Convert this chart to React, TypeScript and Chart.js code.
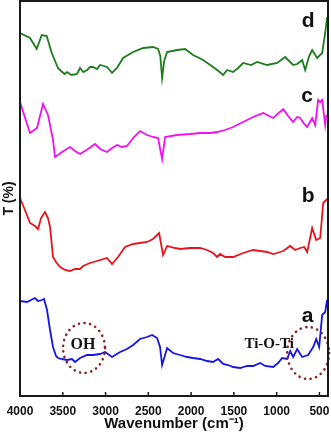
import React, { useEffect, useRef } from "react";
import { Chart, registerables } from "chart.js";

Chart.register(...registerables);

// X tick labels (wavenumber, cm-1)
const xTicks = [4000, 3500, 3000, 2500, 2000, 1500, 1000, 500];
const xMin = 400;
const xMax = 4000;

// Curve d (green)
const dWave = [4000, 3883, 3805, 3746, 3688, 3629, 3556, 3520, 3480, 3450, 3400, 3333, 3298, 3260, 3216, 3180, 3146, 3100, 3064, 3020, 2983, 2924, 2866, 2795, 2678, 2560, 2445, 2386, 2360, 2339, 2315, 2281, 2164, 2070, 1977, 1860, 1743, 1680, 1626, 1580, 1509, 1450, 1392, 1300, 1228, 1111, 994, 901, 807, 760, 702, 667, 620, 585, 527, 468, 433, 410];
const dT = [363, 358, 347, 361, 360, 343, 328, 325, 322, 324, 321, 322, 328, 324, 326, 329, 329, 327, 331, 330, 329, 323, 328, 338, 344, 348, 349, 347, 340, 318, 335, 344, 346, 347, 341, 336, 329, 325, 321, 326, 324, 328, 333, 331, 334, 331, 333, 339, 331, 332, 336, 326, 340, 346, 338, 343, 363, 379];

// Curve c (magenta)
const cWave = [4000, 3883, 3801, 3731, 3673, 3614, 3591, 3556, 3509, 3415, 3357, 3298, 3205, 3123, 3064, 2983, 2924, 2866, 2807, 2749, 2678, 2597, 2515, 2445, 2386, 2339, 2304, 2164, 2012, 1895, 1778, 1696, 1603, 1509, 1392, 1275, 1158, 1041, 924, 866, 807, 760, 725, 678, 643, 585, 550, 515, 491, 468, 433, 420];
const cT = [294, 263, 268, 292, 281, 256, 239, 241, 244, 249, 245, 242, 247, 252, 247, 244, 248, 251, 249, 250, 258, 265, 261, 259, 258, 237, 259, 261, 262, 263, 263, 264, 266, 269, 274, 279, 283, 278, 287, 280, 274, 279, 278, 272, 269, 278, 271, 296, 294, 296, 271, 281];

// Curve b (red)
const bWave = [4000, 3942, 3883, 3825, 3789, 3754, 3708, 3673, 3649, 3614, 3579, 3532, 3474, 3415, 3357, 3298, 3263, 3181, 3099, 2983, 2924, 2854, 2772, 2678, 2597, 2515, 2445, 2374, 2328, 2281, 2187, 2129, 2012, 1895, 1813, 1743, 1696, 1661, 1603, 1509, 1392, 1275, 1193, 1111, 1041, 994, 924, 842, 784, 725, 678, 643, 585, 538, 491, 456, 410];
const bT = [198, 186, 173, 170, 167, 178, 184, 178, 169, 139, 134, 129, 126, 125, 127, 127, 130, 133, 135, 138, 132, 139, 149, 152, 153, 154, 157, 163, 141, 150, 148, 147, 148, 148, 146, 143, 139, 142, 139, 139, 143, 146, 145, 144, 142, 143, 145, 150, 146, 148, 149, 144, 168, 156, 158, 193, 197];

// Curve a (blue)
const aWave = [4000, 3918, 3825, 3789, 3743, 3719, 3684, 3649, 3614, 3579, 3556, 3509, 3450, 3392, 3357, 3298, 3216, 3146, 3064, 3006, 2924, 2830, 2749, 2678, 2597, 2515, 2456, 2398, 2363, 2339, 2304, 2281, 2211, 2129, 2047, 1977, 1895, 1813, 1743, 1684, 1626, 1567, 1509, 1427, 1345, 1275, 1193, 1135, 1041, 983, 936, 877, 842, 807, 760, 725, 702, 667, 632, 573, 538, 503, 468, 433, 410];
const aT = [95, 94, 98, 95, 96, 97, 86, 66, 49, 40, 38, 37, 36, 37, 34, 38, 41, 41, 42, 44, 39, 44, 47, 51, 57, 59, 61, 58, 49, 31, 41, 48, 43, 41, 39, 38, 37, 35, 34, 37, 32, 31, 29, 28, 30, 30, 33, 30, 29, 33, 38, 37, 45, 39, 47, 42, 39, 40, 41, 49, 57, 49, 81, 84, 96];

// Curve letters: [label, wavenumber, value(baseline)]
const curveLabels: [string, number, number][] = [
  ["d", 632, 369],
  ["c", 643, 294],
  ["b", 632, 194],
  ["a", 638, 74],
];

// Band annotations: [label, wavenumber, value(baseline)]
const bandLabels: [string, number, number][] = [
  ["OH", 3263, 47],
  ["Ti-O-Ti", 1088, 48],
];

// Dotted ellipses: [center wavenumber, center value, half-width (cm-1), half-height]
const ellipses: [number, number, number, number][] = [
  [3252, 48, 245, 25],
  [632, 43, 245, 26],
];

const toPts = (w: number[], t: number[]) => w.map((x, i) => ({ x, y: t[i] }));

const overlay = {
  id: "overlay",
  afterDatasetsDraw(chart: any) {
    const { ctx, chartArea } = chart;
    const xs = chart.scales.x;
    const ys = chart.scales.y;
    ctx.save();
    // dotted ellipses
    ctx.strokeStyle = "#8b2525";
    ctx.lineWidth = 2.6;
    ctx.lineCap = "round";
    ctx.setLineDash([0.1, 5.6]);
    for (const [w, v, dw, dv] of ellipses) {
      const cx = xs.getPixelForValue(w);
      const cy = ys.getPixelForValue(v);
      const rx = Math.abs(xs.getPixelForValue(w + dw) - cx);
      const ry = Math.abs(ys.getPixelForValue(v + dv) - cy);
      ctx.beginPath();
      ctx.ellipse(cx, cy, rx, ry, 0, 0, Math.PI * 2);
      ctx.stroke();
    }
    ctx.setLineDash([]);
    // band labels
    ctx.fillStyle = "#111";
    ctx.textAlign = "center";
    ctx.textBaseline = "alphabetic";
    bandLabels.forEach(([t, w, v], i) => {
      ctx.font = `bold ${i === 0 ? 16 : 15}px "Liberation Serif", "Times New Roman", serif`;
      ctx.fillText(t, xs.getPixelForValue(w), ys.getPixelForValue(v));
    });
    // curve letters
    ctx.font = 'bold 21px "Liberation Sans", Arial, sans-serif';
    for (const [t, w, v] of curveLabels) {
      ctx.fillText(t, xs.getPixelForValue(w), ys.getPixelForValue(v));
    }
    // frame
    ctx.strokeStyle = "#1a1a1a";
    ctx.lineWidth = 2;
    ctx.lineCap = "butt";
    ctx.strokeRect(chartArea.left, chartArea.top, chartArea.right - chartArea.left, chartArea.bottom - chartArea.top);
    // inside ticks on bottom axis
    ctx.lineWidth = 1.5;
    ctx.beginPath();
    for (const v of xTicks) {
      const px = xs.getPixelForValue(v);
      ctx.moveTo(px, chartArea.bottom);
      ctx.lineTo(px, chartArea.bottom - 4);
    }
    ctx.stroke();
    ctx.restore();
  },
};

export default function App() {
  const ref = useRef<HTMLCanvasElement | null>(null);
  useEffect(() => {
    document.body.style.margin = "0";
    const canvas = ref.current!;
    const line = (data: any, color: string) => ({
      data,
      borderColor: color,
      backgroundColor: color,
      borderWidth: 1.8,
      pointRadius: 0,
      tension: 0,
    });
    const chart = new Chart(canvas, {
      type: "line",
      data: {
        datasets: [
          line(toPts(dWave, dT), "#1c7d1c"),
          line(toPts(cWave, cT), "#f010f0"),
          line(toPts(bWave, bT), "#e8141c"),
          line(toPts(aWave, aT), "#1515e6"),
        ],
      },
      options: {
        animation: false,
        responsive: false,
        devicePixelRatio: 1,
        layout: { padding: { left: 0, right: 3, top: 1, bottom: 0 } },
        plugins: { legend: { display: false }, tooltip: { enabled: false } },
        scales: {
          x: {
            type: "linear",
            reverse: true,
            min: xMin,
            max: xMax,
            afterBuildTicks: (s: any) => {
              s.ticks = xTicks.map((value) => ({ value }));
            },
            afterFit: (s: any) => {
              s.height = 44;
              s.paddingLeft = 0;
              s.paddingRight = 0;
            },
            grid: { display: false, drawTicks: false },
            border: { display: false },
            ticks: {
              autoSkip: false,
              maxRotation: 0,
              padding: 8.3,
              color: "#111",
              font: { family: '"Liberation Sans", Arial, sans-serif', size: 12, weight: "bold" },
              callback: (v: any) => String(v),
            },
            title: {
              display: true,
              text: "Wavenumber (cm\u207B\u00B9)",
              color: "#111",
              padding: { top: 0, bottom: 7.5 },
              font: { family: '"Liberation Sans", Arial, sans-serif', size: 15, weight: "bold" },
            },
          },
          y: {
            type: "linear",
            min: 0,
            max: 395,
            grid: { display: false, drawTicks: false },
            border: { display: false },
            ticks: { display: false },
            title: {
              display: true,
              text: "T (%)",
              color: "#111",
              padding: { top: 1, bottom: 2.2 },
              font: { family: '"Liberation Sans", Arial, sans-serif', size: 14, weight: "bold" },
            },
          },
        },
      },
      plugins: [overlay],
    });
    return () => chart.destroy();
  }, []);
  return (
    <div style={{ width: 331, height: 440, background: "#fff" }}>
      <canvas ref={ref} width={331} height={440} style={{ display: "block" }} />
    </div>
  );
}
